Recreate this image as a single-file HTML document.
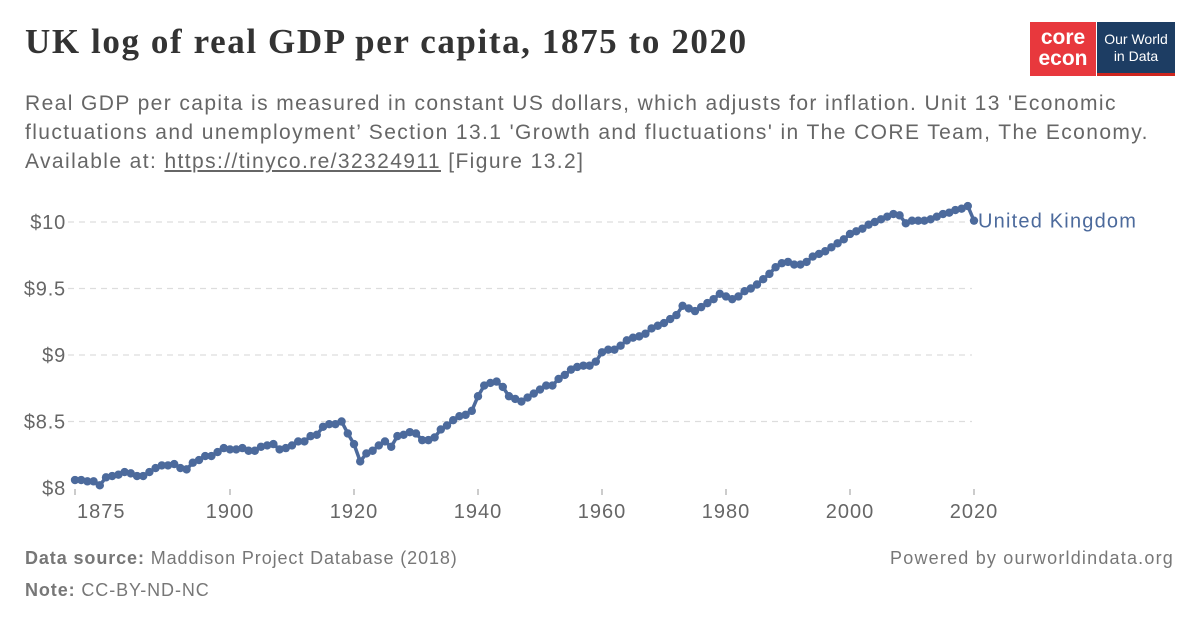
<!DOCTYPE html>
<html><head><meta charset="utf-8">
<style>
body{margin:0;width:1200px;height:627px;background:#fff;font-family:"Liberation Sans",sans-serif;position:relative;overflow:hidden}
.t{position:absolute;white-space:nowrap}
</style></head><body>
<div class="t" style="left:25px;top:22px;font-family:'Liberation Serif',serif;font-size:35px;font-weight:bold;color:#333;letter-spacing:1.6px">UK log of real GDP per capita, 1875 to 2020</div>
<div class="t" style="left:25px;top:89px;font-size:21px;line-height:29px;color:#666;letter-spacing:1.4px">Real GDP per capita is measured in constant US dollars, which adjusts for inflation. Unit 13 'Economic<br>fluctuations and unemployment’ Section 13.1 'Growth and fluctuations' in The CORE Team, The Economy.<br>Available at: <span style="text-decoration:underline">https://tinyco.re/32324911</span> [Figure 13.2]</div>
<div class="t" style="left:1030px;top:22px;width:66px;height:54px;background:#e8383d;color:#fff;font-weight:bold;font-size:21px;line-height:21px;text-align:center;padding-top:5px;box-sizing:border-box">core<br>econ</div>
<div class="t" style="left:1097px;top:22px;width:78px;height:54px;background:#1d3d63;color:#fff;font-size:14px;line-height:17px;text-align:center;padding-top:9px;box-sizing:border-box;border-bottom:3px solid #ce261e">Our World<br>in Data</div>
<svg class="t" style="left:0;top:0" width="1200" height="627" id="chart"></svg>
<div class="t" style="left:25px;top:548px;font-size:18px;color:#777;letter-spacing:0.9px"><b>Data source:</b> Maddison Project Database (2018)</div>
<div class="t" style="left:25px;top:580px;font-size:18px;color:#777;letter-spacing:0.9px"><b>Note:</b> CC-BY-ND-NC</div>
<div class="t" style="right:26px;top:548px;font-size:18px;color:#777;letter-spacing:1.2px">Powered by ourworldindata.org</div>
<script>
const startYear = 1875;
const values = [8.06,8.06,8.05,8.05,8.02,8.08,8.09,8.10,8.12,8.11,8.09,8.09,8.12,8.15,8.17,8.17,8.18,8.15,8.14,8.19,8.21,8.24,8.24,8.27,8.30,8.29,8.29,8.30,8.28,8.28,8.31,8.32,8.33,8.29,8.30,8.32,8.35,8.35,8.39,8.40,8.46,8.48,8.48,8.50,8.41,8.33,8.20,8.26,8.28,8.32,8.35,8.31,8.39,8.40,8.42,8.41,8.36,8.36,8.38,8.44,8.47,8.51,8.54,8.55,8.58,8.69,8.77,8.79,8.80,8.76,8.69,8.67,8.65,8.68,8.71,8.74,8.77,8.77,8.82,8.85,8.89,8.91,8.92,8.92,8.95,9.02,9.04,9.04,9.07,9.11,9.13,9.14,9.16,9.20,9.22,9.24,9.27,9.30,9.37,9.35,9.33,9.36,9.39,9.42,9.46,9.44,9.42,9.44,9.48,9.50,9.53,9.57,9.61,9.66,9.69,9.70,9.68,9.68,9.70,9.74,9.76,9.78,9.81,9.84,9.87,9.91,9.93,9.95,9.98,10.00,10.02,10.04,10.06,10.05,9.99,10.01,10.01,10.01,10.02,10.04,10.06,10.07,10.09,10.10,10.12,10.01];
const yTicks = [8,8.5,9,9.5,10];
const yTickLabels = ["$8","$8.5","$9","$9.5","$10"];
const xTicks = [1875,1900,1920,1940,1960,1980,2000,2020];
const NS="http://www.w3.org/2000/svg";
const svg=document.getElementById('chart');
const X=y=>75+(y-1875)*6.2;
const Y=v=>488-(v-8)*133;
function mk(tag,attrs){const e=document.createElementNS(NS,tag);for(const k in attrs)e.setAttribute(k,attrs[k]);svg.appendChild(e);return e;}
yTicks.forEach((v,i)=>{
  if(v>8){const g=mk('line',{x1:68,x2:972,y1:Y(v),y2:Y(v),stroke:'#ddd','stroke-dasharray':'6,5','stroke-width':1.3});
  
  }
  const t=mk('text',{x:66,y:Y(v)+7,'text-anchor':'end','font-size':20,fill:'#666','font-family':'Liberation Sans','letter-spacing':0.8});
  t.textContent=yTickLabels[i];
  
  
});
xTicks.forEach((yr,i)=>{
  const l=mk('line',{x1:X(yr),x2:X(yr),y1:489,y2:495,stroke:'#999'});
  
  
  const t=mk('text',{x:i===0?X(yr)+2:X(yr),y:518,'text-anchor':i===0?'start':'middle','font-size':20,fill:'#666','font-family':'Liberation Sans','letter-spacing':1});
  t.textContent=yr;
  
  
});
const pts=values.map((v,i)=>X(startYear+i)+','+Y(v)).join(' ');
const pl=mk('polyline',{points:pts,fill:'none',stroke:'#4c6a9c','stroke-width':3.5,'stroke-linejoin':'round'});


values.forEach((v,i)=>{
  const c=mk('circle',{cx:X(startYear+i),cy:Y(v),r:4.2,fill:'#4c6a9c'});
  
  
});
const last=values[values.length-1];
const lab=mk('text',{x:978,y:Y(last)+7,'font-size':20,fill:'#4c6a9c','font-family':'Liberation Sans','letter-spacing':1.2});
lab.textContent='United Kingdom';


</script>
</body></html>
